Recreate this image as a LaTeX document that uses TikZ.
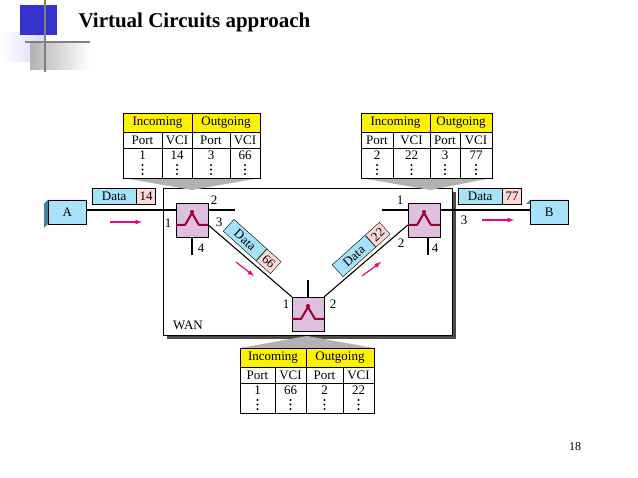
\documentclass[tikz,border=0pt]{standalone}
\usepackage{fontspec}
\setmainfont{Liberation Serif}
\begin{document}
\begin{tikzpicture}[x=1pt,y=-1pt,
  txt/.style={font=\fontsize{13}{14}\selectfont,inner sep=1},
  sw/.style={draw,fill=violet!25,minimum width=32,minimum height=34,inner sep=0},
  host/.style={draw,fill=cyan!35,minimum width=38,minimum height=24,font=\fontsize{13}{14}\selectfont},
  dat/.style={draw,fill=cyan!35,minimum width=44,minimum height=16,inner sep=0,font=\fontsize{13}{14}\selectfont},
  vci/.style={draw,fill=pink!60,minimum width=19,minimum height=16,inner sep=0,font=\fontsize{13}{14}\selectfont},
  mag/.style={->,>=latex,magenta,very thick},
  ln/.style={line width=1.1pt}]
\useasboundingbox (0,0) rectangle (638,478);
% logo
\shade[left color=white,right color=blue!15] (0,33) rectangle (45,62);
\fill[blue!75!black!80] (20,5) rectangle (57,35);
\shade[left color=gray!60,right color=white] (30,42) rectangle (90,70);
\draw[gray,line width=1.5pt] (45,0) -- (45,72);
\draw[gray,line width=1.5pt] (25,42) -- (90,42);
\node[anchor=west,font=\bfseries\fontsize{21}{23}\selectfont] (title) at (75,22) {Virtual Circuits approach};
\node[font=\fontsize{12}{13}\selectfont] (pg) at (575,447) {18};
% WAN box with shadow
\fill[black!70] (167,192) rectangle (456,339);
\node[draw,fill=white,minimum width=289,minimum height=147,inner sep=0,anchor=north west] (wan) at (163,188) {};
\node[txt,anchor=west] (wanl) at (172,325) {WAN};
% switches
\node[sw] (s1) at (192,220) {};
\node[sw] (s2) at (424,220) {};
\node[sw] (s3) at (308,314) {};
\foreach \s in {s1,s2,s3}{
  \draw[purple!80!black,line width=2pt] ([xshift=-16pt,yshift=-5pt]\s.center) -- ([xshift=-7pt,yshift=-5pt]\s.center) -- ([yshift=7pt]\s.center) -- ([xshift=7pt,yshift=-5pt]\s.center) -- ([xshift=16pt,yshift=-5pt]\s.center);
  \fill[purple!80!black] ([yshift=8pt]\s.center) circle (2);
}
% hosts
\fill[cyan!60!black] (44,204) -- (48,200) -- (86,200) -- (82,204) -- cycle;
\fill[cyan!60!black] (44,204) -- (48,200) -- (48,224) -- (44,228) -- cycle;
\node[host,anchor=north west] (A) at (48,200) {A};
\fill[cyan!60!black] (526,204) -- (530,200) -- (568,200) -- (564,204) -- cycle;
\node[host,anchor=north west] (B) at (530,200) {B};
% links
\coordinate (s1e) at (235,210);
\coordinate (s2w) at (382,210);
\coordinate (s1s) at (192,255);
\coordinate (s2s) at (428,255);
\coordinate (s3n) at (308,280);
\draw[ln] (A.east |- 0,210) -- (s1.west |- 0,210);
\draw[ln] (s1.east |- 0,210) -- (s1e);
\draw[ln] (s2w) -- (s2.west |- 0,210);
\draw[ln] (s2.east |- 0,210) -- (B.west |- 0,210);
\draw[ln] (s1.south) -- (s1s);
\draw[ln] ([xshift=4pt]s2.south) -- (s2s);
\draw[ln] (s3.north) -- (s3n);
\draw[ln] ([yshift=-5pt]s1.east) -- (s3.north west);
\draw[ln] (s3.north east) -- ([yshift=-5pt]s2.west);
% port labels
\node[txt] (p11) at (168,223) {1};
\node[txt] (p12) at (214,200) {2};
\node[txt] (p13) at (219,222) {3};
\node[txt] (p14) at (201,248) {4};
\node[txt] (p21) at (400,200) {1};
\node[txt] (p22) at (401,243) {2};
\node[txt] (p23) at (464,220) {3};
\node[txt] (p24) at (435,248) {4};
\node[txt] (p31) at (286,304) {1};
\node[txt] (p32) at (333,304) {2};
% data packets
\node[dat,anchor=north west] (d1) at (92,188) {Data};
\node[vci,anchor=west] (v1) at (d1.east) {14};
\node[dat,anchor=north west] (d2) at (458,188) {Data};
\node[vci,anchor=west] (v2) at (d2.east) {77};
\node[dat,rotate=-42] (d3) at (245,240) {Data};
\node[vci,rotate=-42,anchor=west] (v3) at (d3.east) {66};
\node[dat,rotate=42] (d4) at (354,256) {Data};
\node[vci,rotate=42,anchor=west] (v4) at (d4.east) {22};
% arrows
\coordinate (a1s) at (110,222); \coordinate (a1e) at (142,222);
\coordinate (a2s) at (482,220); \coordinate (a2e) at (514,220);
\coordinate (a3s) at (236,262); \coordinate (a3e) at (254,276);
\coordinate (a4s) at (362,276); \coordinate (a4e) at (381,262);
\draw[mag] (a1s) -- (a1e);
\draw[mag] (a2s) -- (a2e);
\draw[mag] (a3s) -- (a3e);
\draw[mag] (a4s) -- (a4e);
% tables
\foreach \x/\y/\ta/\tb/\tc/\td/\pa/\va/\pb/\vb/\dir/\tip in
  {123/113/39/30/38/30/1/14/3/66/1/190,
   361/113/32/37/30/32/2/22/3/77/1/190,
   240/348/35/31/37/31/1/66/2/22/-1/336}{
  \pgfmathsetmacro\xa{\x+\ta}
  \pgfmathsetmacro\xb{\xa+\tb}
  \pgfmathsetmacro\xc{\xb+\tc}
  \pgfmathsetmacro\xd{\xc+\td}
  \pgfmathsetmacro\ya{\y+19}
  \pgfmathsetmacro\yb{\ya+16}
  \pgfmathsetmacro\yc{\yb+30}
  \pgfmathsetmacro\xm{(\x+\xd)/2}
  \pgfmathsetmacro\ca{(\x+\xa)/2}
  \pgfmathsetmacro\cb{(\xa+\xb)/2}
  \pgfmathsetmacro\cc{(\xb+\xc)/2}
  \pgfmathsetmacro\cd{(\xc+\xd)/2}
  \pgfmathsetmacro\hi{(\x+\xb)/2}
  \pgfmathsetmacro\ho{(\xb+\xd)/2}
  \ifnum\dir=1
    \fill[gray!60] (\x,\yc) -- (\xd,\yc) -- (\xb,\tip) -- cycle;
  \else
    \fill[gray!60] (\x,\y) -- (\xd,\y) -- (\xm,\tip) -- cycle;
  \fi
  \fill[yellow] (\x,\y) rectangle (\xd,\ya);
  \fill[white] (\x,\ya) rectangle (\xd,\yc);
  \draw[thick] (\x,\y) rectangle (\xd,\yc);
  \draw[thick] (\x,\ya) -- (\xd,\ya) (\x,\yb) -- (\xd,\yb);
  \draw[thick] (\xb,\y) -- (\xb,\yc);
  \draw[thick] (\xa,\ya) -- (\xa,\yc) (\xc,\ya) -- (\xc,\yc);
  \node[txt] at (\hi,\y+9.5) {Incoming};
  \node[txt] at (\ho,\y+9.5) {Outgoing};
  \node[txt] at (\ca,\ya+8) {Port};
  \node[txt] at (\cb,\ya+8) {VCI};
  \node[txt] at (\cc,\ya+8) {Port};
  \node[txt] at (\cd,\ya+8) {VCI};
  \foreach \cx/\val in {\ca/\pa,\cb/\va,\cc/\pb,\cd/\vb}{
    \node[txt] at (\cx,\yb+7) {\val};
    \foreach \k in {0,1,2} \fill (\cx,\yb+17+\k*4.5) circle (1.2);
  }
}
\end{tikzpicture}
\end{document}
